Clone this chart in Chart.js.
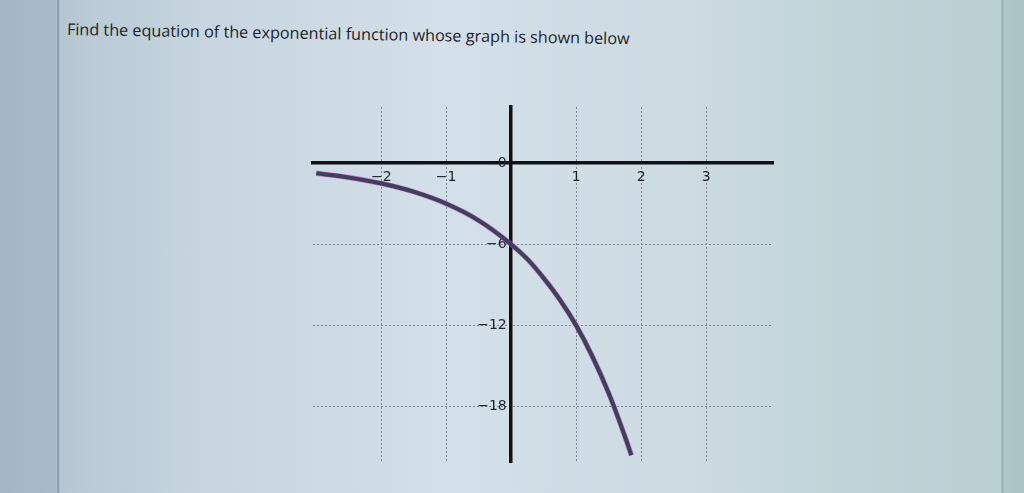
<!DOCTYPE html>
<html>
<head>
<meta charset="utf-8">
<script src="https://cdn.jsdelivr.net/npm/chart.js@4/dist/chart.umd.min.js"></script>
<style>
  html, body { margin: 0; padding: 0; width: 1024px; height: 493px; overflow: hidden; }
  body {
    background:
      linear-gradient(90deg, #a3b6c5 0px, #a9bbc9 57px, #7f92a0 58px, #b6c7d3 60px, #c6d5e0 200px, #d4e0e9 450px, #ccdae2 700px, #bfd4d8 850px, #b9d0d3 1001px, #8ea6a8 1002px, #aec6c8 1004px, #aac3c6 1024px);
    position: relative;
  }
  #title {
    position: absolute; left: 67px; top: 18px;
    font-family: "Open Sans", sans-serif; font-size: 16.2px; color: #1e2226;
    transform: rotate(0.95deg); transform-origin: left center; white-space: nowrap;
  }
  #wrap { position: absolute; left: 0; top: 0; width: 1024px; height: 493px; }
</style>
</head>
<body>
<div id="title">Find the equation of the exponential function whose graph is shown below</div>
<div id="wrap"><canvas id="c"></canvas></div>
<script>
// values
const curveX = [-3.0, -2.5, -2.0, -1.5, -1.0, -0.5, 0.0, 0.25, 0.5, 0.75, 1.0, 1.25, 1.5, 1.75, 1.85];
const curveY = [-0.75, -1.06, -1.5, -2.12, -3.0, -4.24, -6.0, -7.1, -8.5, -10.1, -12.0, -14.3, -17.0, -20.2, -21.6];
const xTickValues = [-2, -1, 0, 1, 2, 3];
const yTickValues = [0, -6, -12, -18];
const xRange = [-3.05, 4.03];
const yRange = [-22.1, 4.15];

const pts = curveX.map((x, i) => ({ x: x, y: curveY[i] }));
const fmt = v => (v < 0 ? '\u2212' + Math.abs(v) : String(v));
const gridColor = c => (c.tick && c.tick.value === 0 ? 'rgba(0,0,0,0)' : '#7a848d');

new Chart(document.getElementById('c'), {
  type: 'line',
  data: {
    datasets: [
      { data: pts, borderColor: '#3d4259', borderWidth: 4.2, pointRadius: 0, cubicInterpolationMode: 'monotone', order: 1 },
      { data: pts, borderColor: 'rgba(225,70,225,0.6)', borderWidth: 5.4, pointRadius: 0, cubicInterpolationMode: 'monotone', order: 2 }
    ]
  },
  options: {
    responsive: true,
    maintainAspectRatio: false,
    animation: false,
    layout: { padding: { left: 313, right: 251, top: 107, bottom: 31 } },
    plugins: { legend: { display: false }, tooltip: { enabled: false } },
    scales: {
      x: {
        type: 'linear',
        min: xRange[0], max: xRange[1],
        position: { y: 0 },
        afterFit: s => { s.height = 0; },
        afterBuildTicks: s => { s.ticks = xTickValues.map(v => ({ value: v })); },
        border: { display: true, color: '#111', width: 3.5, dash: [2, 2] },
        grid: {
          drawTicks: true,
          tickLength: 4,
          tickColor: 'rgba(0,0,0,0)',
          color: gridColor,
          lineWidth: 1
        },
        ticks: {
          padding: 2,
          color: '#1f2328',
          font: { family: 'DejaVu Sans', size: 14 },
          callback: v => (v === 0 ? '' : fmt(v)),
          maxRotation: 0, autoSkip: false
        }
      },
      y: {
        type: 'linear',
        min: yRange[0], max: yRange[1],
        position: { x: 0 },
        afterFit: s => { s.width = 0; },
        afterBuildTicks: s => { s.ticks = yTickValues.map(v => ({ value: v })); },
        border: { display: true, color: '#111', width: 3.5, dash: [2, 2] },
        grid: {
          drawTicks: true,
          tickLength: 4,
          tickColor: 'rgba(0,0,0,0)',
          color: gridColor,
          lineWidth: 1
        },
        ticks: {
          padding: 2,
          color: '#1f2328',
          font: { family: 'DejaVu Sans', size: 14 },
          callback: v => fmt(v) + ' ',
          autoSkip: false
        }
      }
    }
  }
});
</script>
</body>
</html>
